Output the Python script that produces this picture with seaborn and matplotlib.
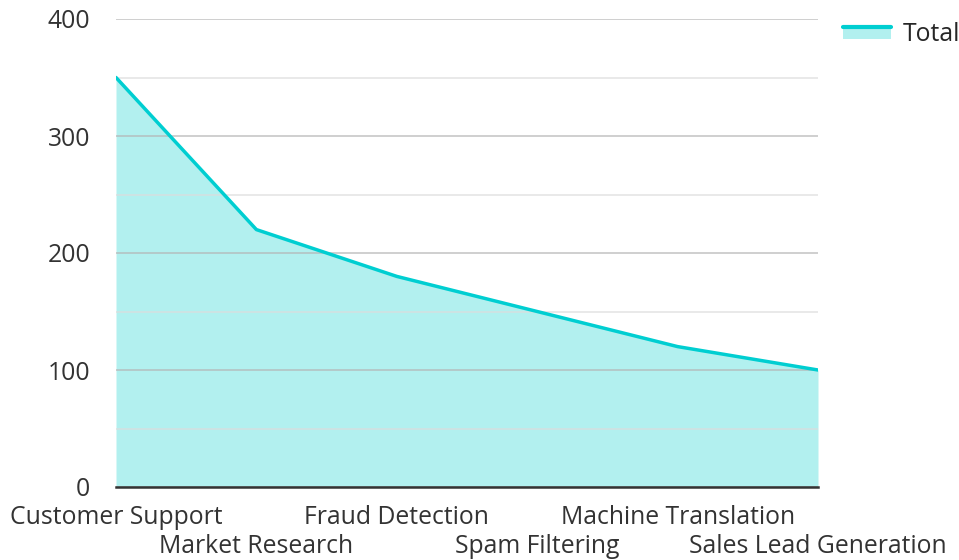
import matplotlib

matplotlib.use("Agg")

import matplotlib.pyplot as plt
import numpy as np
import pandas as pd
import seaborn as sns
from matplotlib.legend_handler import HandlerBase
from matplotlib.lines import Line2D
from matplotlib.patches import Rectangle

categories = [
    "Customer Support",
    "Market Research",
    "Fraud Detection",
    "Spam Filtering",
    "Machine Translation",
    "Sales Lead Generation",
]
totals = [350, 220, 180, 150, 120, 100]
y_ticks = [0, 100, 200, 300, 400]
series_name = "Total"

LINE_COLOR = "#00CED1"
FILL_COLOR = "#B2F0EF"
FONT_SIZE = 17.8


class AreaHandler(HandlerBase):
    """Legend key: filled box with the line along its top edge."""

    def create_artists(self, legend, orig_handle, xdescent, ydescent,
                       width, height, fontsize, trans):
        box = Rectangle((-xdescent, -ydescent), width, height * 0.9,
                        facecolor=FILL_COLOR, edgecolor="none", transform=trans)
        top = Line2D([-xdescent, -xdescent + width],
                     [-ydescent + height * 0.9] * 2,
                     color=LINE_COLOR, linewidth=3, transform=trans)
        return [box, top]


sns.set_theme(style="white")
plt.rcParams["font.family"] = ["Open Sans", "DejaVu Sans"]

df = pd.DataFrame({"category": categories, "value": totals})
df["pos"] = np.arange(len(df))

fig = plt.figure(figsize=(9.59, 5.6), dpi=100)
ax = fig.add_axes([116 / 959, 1 - 487 / 560, (818 - 116) / 959, (487 - 19) / 560])

ax.fill_between(df["pos"], df["value"], color=FILL_COLOR, linewidth=0, zorder=1)
sns.lineplot(data=df, x="pos", y="value", color=LINE_COLOR, linewidth=2.5,
             ax=ax, zorder=3, legend=False)

ax.set_xlim(0, len(df) - 1)
ax.set_ylim(0, 400)
ax.set_yticks(y_ticks)
ax.set_yticks(np.arange(50, 400, 100), minor=True)
ax.grid(axis="y", which="major", color="#b4b4b4", linewidth=1.2, alpha=0.75, zorder=2)
ax.grid(axis="y", which="minor", color="#dcdcdc", linewidth=1.2, alpha=0.75, zorder=2)
ax.set_axisbelow(False)
ax.tick_params(axis="y", which="both", length=0, pad=18.5, labelsize=FONT_SIZE,
               labelcolor="#333333")

ax.set_xticks(df["pos"])
ax.set_xticklabels(categories)
ax.tick_params(axis="x", length=0, labelsize=FONT_SIZE, labelcolor="#333333", pad=13)
for i, tick in enumerate(ax.xaxis.get_major_ticks()):
    if i % 2 == 1:
        tick.set_pad(34)

ax.set_xlabel("")
ax.set_ylabel("")
for side in ["top", "right", "left"]:
    ax.spines[side].set_visible(False)
ax.spines["bottom"].set_color("#333333")
ax.spines["bottom"].set_linewidth(1.8)
ax.spines["bottom"].set_zorder(4)

ax.legend([Rectangle((0, 0), 1, 1)], [series_name], handler_map={Rectangle: AreaHandler()},
          loc="upper left", bbox_to_anchor=(843 / 959, 1 - 22 / 560),
          bbox_transform=fig.transFigure, frameon=False, fontsize=FONT_SIZE,
          handlelength=1.96, handleheight=0.5, handletextpad=0.44,
          borderpad=0, borderaxespad=0)

fig.savefig("out.png", dpi=100)
